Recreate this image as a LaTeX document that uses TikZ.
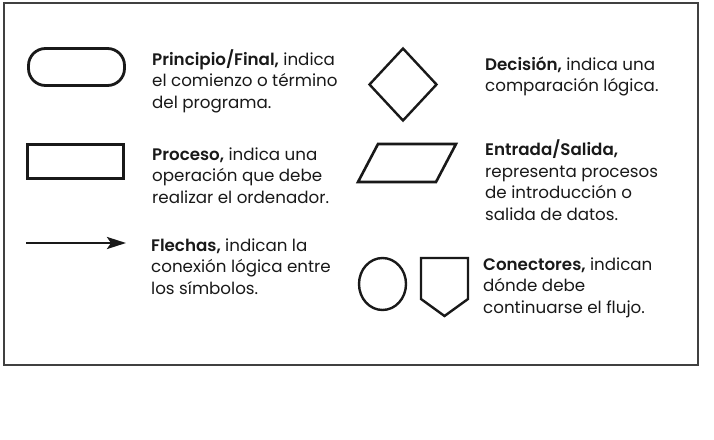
\documentclass[tikz,border=0pt]{standalone}
\usepackage{fontspec}
\setmainfont{Poppins}[BoldFont = {Poppins SemiBold}]
\usetikzlibrary{shapes.geometric, arrows.meta}

\begin{document}
\begin{tikzpicture}[x = 1pt, y = -1pt]
\tikzstyle{frameStyle} = [draw = black!75, line width = 1.4pt]
\tikzstyle{symbolStyle} = [draw = black!90, line width = 2.8pt, inner sep = 0pt]
\tikzstyle{textStyle} = [anchor = base west, align = left, inner sep = 0pt, text = black!90,
  font = \fontsize{16.7}{21.5}\selectfont]
\useasboundingbox[fill = white] (0,0) rectangle (714,439);
\draw[frameStyle] (4,3) rectangle (698,365);
% left column
\node[symbolStyle, rounded corners = 17pt, minimum width = 96pt, minimum height = 37pt] (s0) at (76.5,67) {};
\node[symbolStyle, line width = 3.2pt, minimum width = 96pt, minimum height = 34pt] (s1) at (75.5,161.5) {};
\coordinate (a0) at (26,243);
\coordinate (a1) at (126,243);
\draw[black!90, line width = 2.8pt, -{Stealth[length = 19pt, width = 12pt, inset = 4pt]}] (a0) -- (a1);
% text nodes sit on the baseline of their last line
\node[textStyle] (t0) at (152,108) {\textbf{Principio/Final,} indica\\el comienzo o término\\del programa.};
\node[textStyle] (t1) at (152,203) {\textbf{Proceso,} indica una\\operación que debe\\realizar el ordenador.};
\node[textStyle] (t2) at (151,294) {\textbf{Flechas,} indican la\\conexión lógica entre\\los símbolos.};
% right column
\node[symbolStyle, diamond, line width = 2.4pt, minimum width = 68pt, minimum height = 73pt] (s2) at (403,84.5) {};
\draw[symbolStyle, line width = 2.6pt] (378,144) -- (456,144) -- (436,182) -- (358,182) -- cycle;
\node[symbolStyle, ellipse, line width = 2.4pt, minimum width = 47pt, minimum height = 52pt] (s3) at (382.5,284) {};
\draw[symbolStyle, line width = 2.4pt] (421,258) -- (468,258) -- (468,299) -- (444.5,316) -- (421,299) -- cycle;
\node[textStyle] (t3) at (485,91.5) {\textbf{Decisión,} indica una\\comparación lógica.};
\node[textStyle] (t4) at (485,220) {\textbf{Entrada/Salida,}\\representa procesos\\de introducción o\\salida de datos.};
\node[textStyle] (t5) at (483,313) {\textbf{Conectores,} indican\\dónde debe\\continuarse el flujo.};
\end{tikzpicture}
\end{document}
